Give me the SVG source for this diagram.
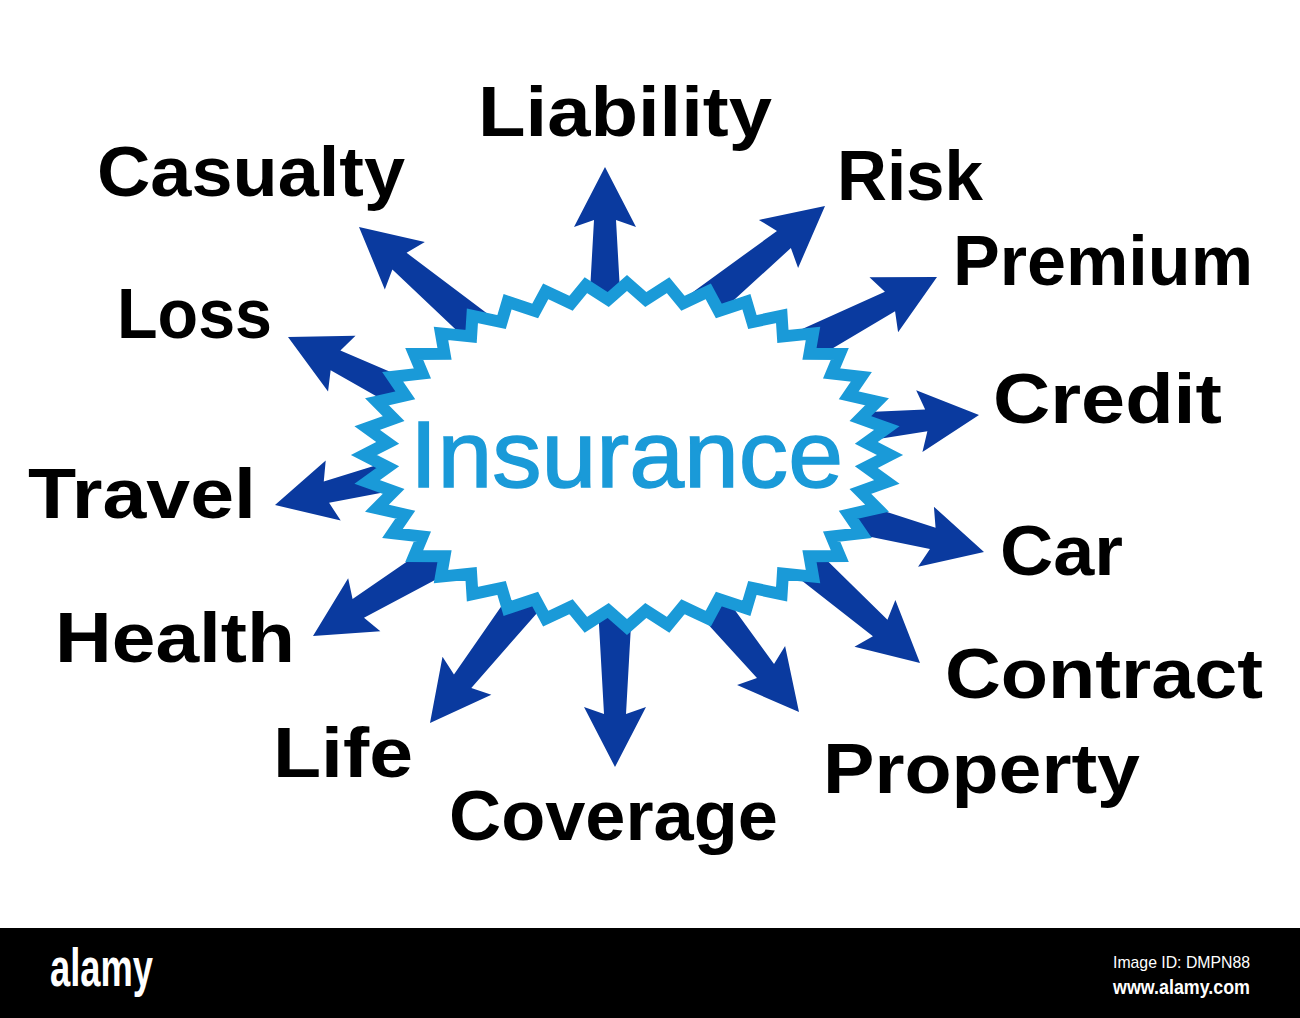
<svg xmlns="http://www.w3.org/2000/svg" xmlns:xlink="http://www.w3.org/1999/xlink" width="1300" height="1018" viewBox="0 0 1300 1018">
<style>
.lbl{font-family:"Liberation Sans","DejaVu Sans",sans-serif;font-weight:bold;font-size:71px;fill:#000;}
.center{font-family:"Liberation Sans","DejaVu Sans",sans-serif;font-weight:normal;font-size:94px;fill:#1a9ad8;stroke:#1a9ad8;stroke-width:1.5;}
.arrow{fill:#0a3a9f;}
.ring{fill:#fff;stroke:#1a9ad8;stroke-width:12;stroke-linejoin:miter;}
.foot{font-family:"Liberation Sans Narrow","Liberation Sans","DejaVu Sans",sans-serif;fill:#fff;}
</style>
<defs>
<polygon id="arr" class="arrow" points="0,0 31,60 11,53 17,160 -17,160 -11,53 -31,60"/>
</defs>
<rect x="0" y="0" width="1300" height="1018" fill="#fff"/>
<g id="connectors">
<use xlink:href="#arr" href="#arr" transform="translate(605,167) rotate(0)"/>
<use xlink:href="#arr" href="#arr" transform="translate(825,206) rotate(50.8)"/>
<use xlink:href="#arr" href="#arr" transform="translate(937,277) rotate(62.5)"/>
<use xlink:href="#arr" href="#arr" transform="translate(979,415) rotate(84.2)"/>
<use xlink:href="#arr" href="#arr" transform="translate(984,552) rotate(104.8)"/>
<use xlink:href="#arr" href="#arr" transform="translate(920,663) rotate(131.3)"/>
<use xlink:href="#arr" href="#arr" transform="translate(799,712) rotate(140.8)"/>
<use xlink:href="#arr" href="#arr" transform="translate(615,767) rotate(180)"/>
<use xlink:href="#arr" href="#arr" transform="translate(430,723) rotate(-142)"/>
<use xlink:href="#arr" href="#arr" transform="translate(313,636) rotate(-121.3)"/>
<use xlink:href="#arr" href="#arr" transform="translate(275,505) rotate(-104)"/>
<use xlink:href="#arr" href="#arr" transform="translate(288,337) rotate(-63.7)"/>
<use xlink:href="#arr" href="#arr" transform="translate(359,227) rotate(-49.8)"/>
</g>
<g id="node-insurance">
<polygon class="ring" points="890,455 866.3,467.2 886.8,481.9 860.4,491.4 877.1,508.2 848.7,514.7 861.3,533.1 831.6,536.5 839.8,556.1 809.5,556.3 813,576.6 782.9,573.6 781.6,594.2 752.4,588 746.4,608.3 718.8,599.1 708.3,618.6 683,606.7 668.1,624.9 645.8,610.5 627,627 608.2,610.5 585.9,624.9 571,606.7 545.7,618.6 535.2,599.1 507.6,608.3 501.6,588 472.4,594.2 471.1,573.6 441,576.6 444.5,556.3 414.2,556.1 422.4,536.5 392.7,533.1 405.3,514.7 376.9,508.2 393.6,491.4 367.2,481.9 387.7,467.2 364,455 387.7,442.8 367.2,428.1 393.6,418.6 376.9,401.8 405.3,395.3 392.7,376.9 422.4,373.5 414.2,353.9 444.5,353.7 441,333.4 471.1,336.4 472.4,315.8 501.6,322 507.6,301.7 535.2,310.9 545.7,291.4 571,303.3 585.9,285.1 608.2,299.5 627,283 645.8,299.5 668.1,285.1 683,303.3 708.3,291.4 718.8,310.9 746.4,301.7 752.4,322 781.6,315.8 782.9,336.4 813,333.4 809.5,353.7 839.8,353.9 831.6,373.5 861.3,376.9 848.7,395.3 877.1,401.8 860.4,418.6 886.8,428.1 866.3,442.8"/>
<text class="center" x="410" y="487" textLength="433" lengthAdjust="spacingAndGlyphs">Insurance</text>
</g>
<g id="node-liability"><text class="lbl" x="478" y="136" textLength="294" lengthAdjust="spacingAndGlyphs">Liability</text></g>
<g id="node-casualty"><text class="lbl" x="97" y="196" textLength="308" lengthAdjust="spacingAndGlyphs">Casualty</text></g>
<g id="node-risk"><text class="lbl" x="837" y="200" textLength="146" lengthAdjust="spacingAndGlyphs">Risk</text></g>
<g id="node-premium"><text class="lbl" x="953" y="285" textLength="300" lengthAdjust="spacingAndGlyphs">Premium</text></g>
<g id="node-loss"><text class="lbl" x="117" y="338" textLength="155" lengthAdjust="spacingAndGlyphs">Loss</text></g>
<g id="node-credit"><text class="lbl" x="993" y="423" textLength="229" lengthAdjust="spacingAndGlyphs">Credit</text></g>
<g id="node-travel"><text class="lbl" x="28" y="518" textLength="228" lengthAdjust="spacingAndGlyphs">Travel</text></g>
<g id="node-car"><text class="lbl" x="1000" y="575" textLength="123" lengthAdjust="spacingAndGlyphs">Car</text></g>
<g id="node-health"><text class="lbl" x="55" y="662" textLength="240" lengthAdjust="spacingAndGlyphs">Health</text></g>
<g id="node-contract"><text class="lbl" x="945" y="698" textLength="318" lengthAdjust="spacingAndGlyphs">Contract</text></g>
<g id="node-life"><text class="lbl" x="273" y="777" textLength="140" lengthAdjust="spacingAndGlyphs">Life</text></g>
<g id="node-property"><text class="lbl" x="823" y="793" textLength="317" lengthAdjust="spacingAndGlyphs">Property</text></g>
<g id="node-coverage"><text class="lbl" x="449" y="840" textLength="329" lengthAdjust="spacingAndGlyphs">Coverage</text></g>
<g id="footer">
<rect x="0" y="928" width="1300" height="90" fill="#000"/>
<text class="foot" x="50" y="986" font-size="54" font-weight="bold" textLength="103" lengthAdjust="spacingAndGlyphs">alamy</text>
<text class="foot" x="1113" y="968" font-size="17" textLength="137" lengthAdjust="spacingAndGlyphs">Image ID: DMPN88</text>
<text class="foot" x="1113" y="994" font-size="21" font-weight="bold" textLength="137" lengthAdjust="spacingAndGlyphs">www.alamy.com</text>
</g>
</svg>
